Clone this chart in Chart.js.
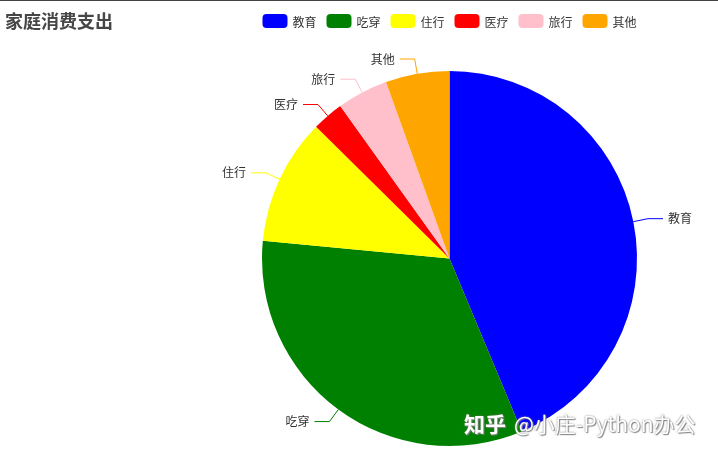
<!DOCTYPE html>
<html lang="zh">
<head>
<meta charset="utf-8">
<title>家庭消费支出</title>
<script src="https://cdn.jsdelivr.net/npm/chart.js@4/dist/chart.umd.min.js"></script>
<style>
  html, body {
    margin: 0;
    padding: 0;
    background: #ffffff;
  }
  #wrap {
    position: relative;
    width: 718px;
    height: 459px;
    border-top: 1px solid #444;
    box-sizing: border-box;
  }
  #marque {
    position: absolute;
    left: 464px;
    top: 407px;
    font-family: "Noto Sans CJK SC", sans-serif;
    font-size: 21px;
    color: #ffffff;
    text-shadow: 0 0 2px #777, 1px 1px 1px #888;
    white-space: nowrap;
  }
  #marque b {
    font-weight: bold;
    margin-right: 8px;
  }
</style>
</head>
<body>
<div id="wrap">
  <canvas id="graphique-depenses" width="718" height="458"></canvas>
  <div id="marque"><b>知乎</b>@小庄-Python办公</div>
</div>
<script>
// Données du graphique (parts en %)
const titre = "家庭消费支出"
const categories = ["教育", "吃穿", "住行", "医疗", "旅行", "其他"]
const depenses = [43.7, 32.8, 10.9, 2.7, 4.4, 5.5]
const couleurs = ["blue", "green", "yellow", "red", "pink", "orange"]

const police = '"Noto Sans CJK SC", "Noto Sans", sans-serif'

/* Titre en haut à gauche, façon echarts */
const titrePlugin = {
  id: "titre",
  afterDraw(chart) {
    const ctx = chart.ctx
    ctx.save()
    ctx.font = "bold 18px " + police
    ctx.fillStyle = "#464646"
    ctx.textAlign = "left"
    ctx.textBaseline = "middle"
    ctx.fillText(titre, 5, 20)
    ctx.restore()
  },
}

/* Légende dessinée à la main : rectangles arrondis + texte, centrée sur le camembert */
const legendePlugin = {
  id: "legende",
  afterDraw(chart) {
    const ctx = chart.ctx
    const area = chart.chartArea
    ctx.save()
    ctx.font = "12px " + police
    const largeurs = categories.map((c) => 25 + 5 + ctx.measureText(c).width)
    const total = largeurs.reduce((a, b) => a + b, 0) + 10 * (categories.length - 1)
    let x = (area.left + area.right) / 2 - total / 2
    const y = 20

    for (let i = 0; i < categories.length; i++) {
      ctx.fillStyle = couleurs[i]
      ctx.beginPath()
      ctx.roundRect(x, y - 7, 25, 14, 4)
      ctx.fill()
      ctx.fillStyle = "#333"
      ctx.textAlign = "left"
      ctx.textBaseline = "middle"
      ctx.fillText(categories[i], x + 30, y + 1)
      x += largeurs[i] + 10
    }
    ctx.restore()
  },
}

/* Étiquettes avec lignes de rappel (longueur 15 + 15) */
const etiquettesPlugin = {
  id: "etiquettes",
  afterDatasetsDraw(chart) {
    const ctx = chart.ctx
    const arcs = chart.getDatasetMeta(0).data
    ctx.save()
    ctx.font = "12px " + police
    ctx.lineWidth = 1

    arcs.forEach((arc, i) => {
      const p = arc.getProps(["x", "y", "startAngle", "endAngle", "outerRadius"], true)
      const milieu = (p.startAngle + p.endAngle) / 2
      const cos = Math.cos(milieu)
      const sin = Math.sin(milieu)
      const x1 = p.x + p.outerRadius * cos
      const y1 = p.y + p.outerRadius * sin
      const x2 = p.x + (p.outerRadius + 15) * cos
      const y2 = p.y + (p.outerRadius + 15) * sin
      const sens = cos >= 0 ? 1 : -1
      const x3 = x2 + 15 * sens

      ctx.strokeStyle = couleurs[i]
      ctx.beginPath()
      ctx.moveTo(x1, y1)
      ctx.lineTo(x2, y2)
      ctx.lineTo(x3, y2)
      ctx.stroke()

      ctx.fillStyle = "#333"
      ctx.textAlign = sens > 0 ? "left" : "right"
      ctx.textBaseline = "middle"
      ctx.fillText(categories[i], x3 + 5 * sens, y2)
    })
    ctx.restore()
  },
}

const data = {
  labels: categories,
  datasets: [
    {
      data: depenses,
      backgroundColor: couleurs,
      borderWidth: 0,
      hoverOffset: 0,
      offset: 0,
    },
  ],
}

const config = {
  type: "pie",
  data: data,
  options: {
    responsive: false,
    animation: false,
    layout: {
      padding: { left: 262, right: 81, top: 70, bottom: 13 },
    },
    plugins: {
      legend: { display: false },
      tooltip: { enabled: false },
    },
  },
  plugins: [titrePlugin, legendePlugin, etiquettesPlugin],
}

new Chart(document.querySelector("#graphique-depenses"), config)
</script>
</body>
</html>
